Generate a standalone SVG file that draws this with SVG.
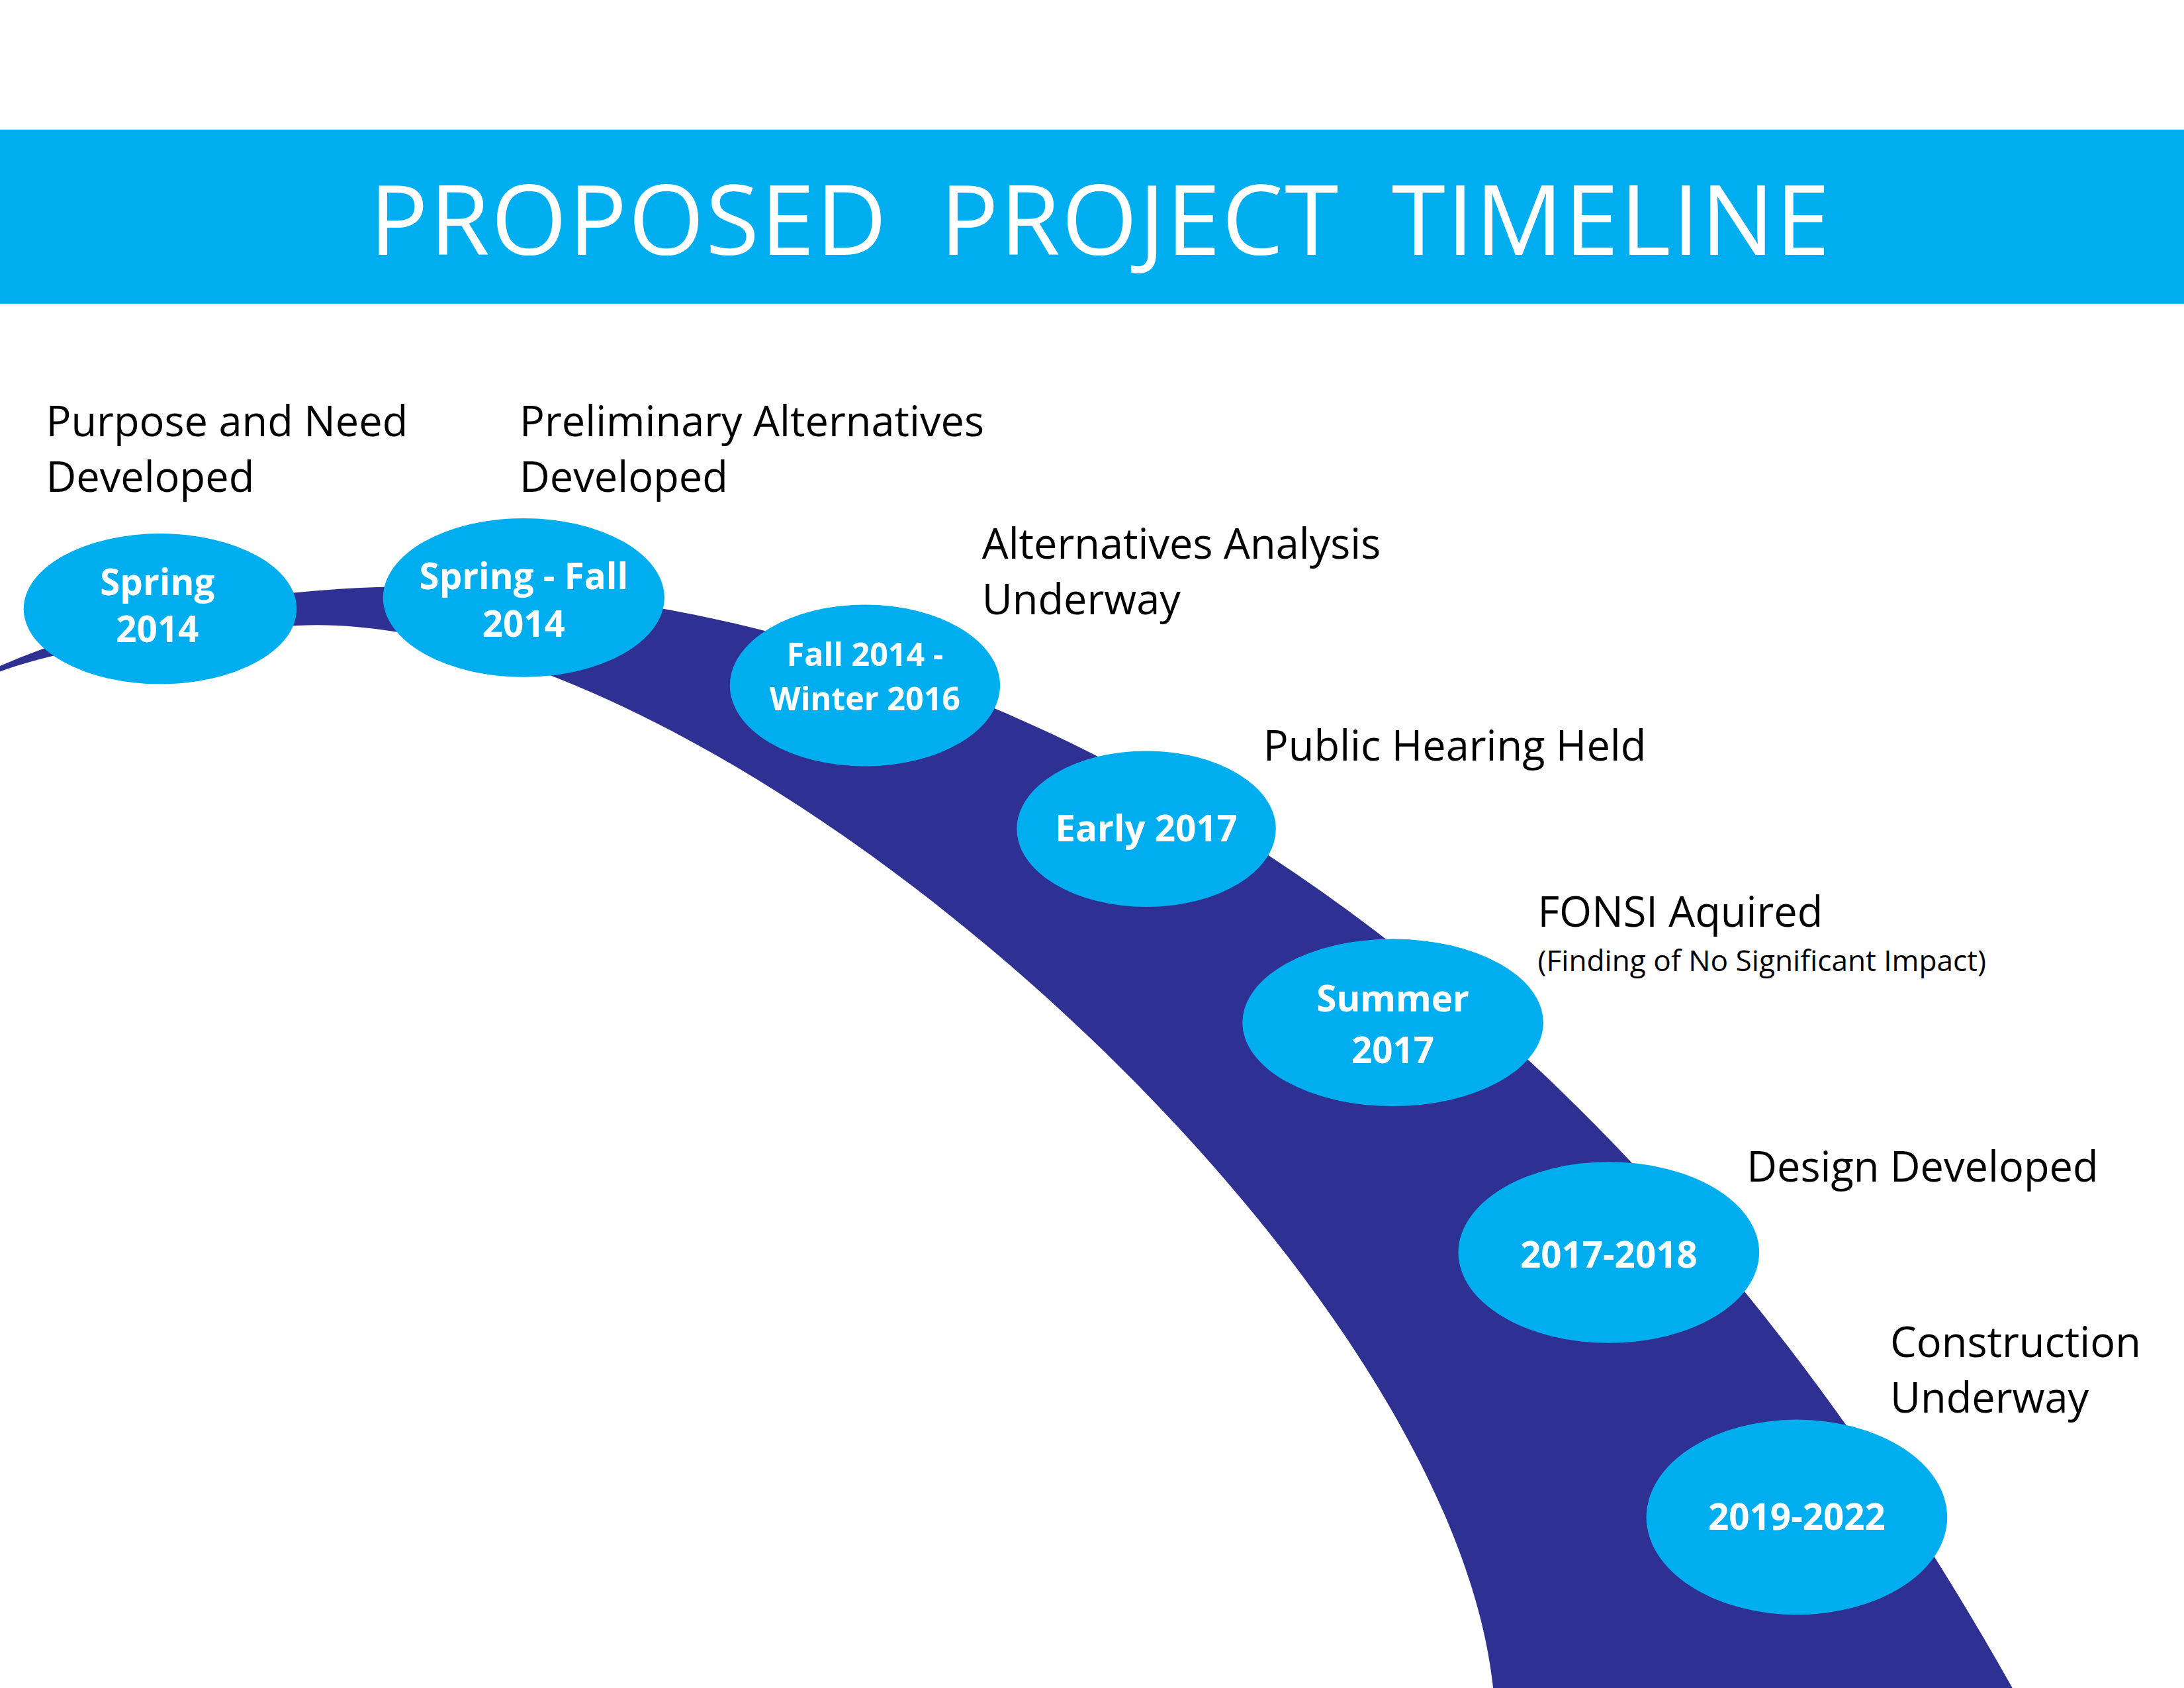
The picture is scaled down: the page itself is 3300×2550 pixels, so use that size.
<svg xmlns="http://www.w3.org/2000/svg" width="3300" height="2550" viewBox="0 0 3300 2550">
<style>
.e{fill:#00AEEF}
.d{font-family:"Open Sans","Liberation Sans",sans-serif;font-weight:bold;font-size:26px;fill:#fff;text-anchor:middle}
.t{font-family:"Open Sans","Liberation Sans",sans-serif;font-size:30px;fill:#000}
</style>
<rect width="3300" height="2550" fill="#fff"/>
<g transform="scale(2.1046)">
<g id="banner"><rect x="0" y="93" width="1568" height="125" fill="#00AEEF"/>
<text x="790" y="183" font-family="Open Sans,Liberation Sans,sans-serif" font-size="70" fill="#fff" text-anchor="middle" letter-spacing="1" word-spacing="18">PROPOSED  PROJECT  TIMELINE</text></g>
<g id="connectors"><path d="M0,478 C 330,335 1000,420 1445,1212 L 1072,1212 C 1040,900 500,420 200,450 C 100,455 40,468 0,482 Z" fill="#2E3192"/></g>
<g id="n1"><ellipse class="e" cx="115" cy="437" rx="98" ry="54"/><text class="d" x="113" y="427">Spring</text><text class="d" x="113" y="461">2014</text><text class="t" x="33" y="313">Purpose and Need</text><text class="t" x="33" y="353">Developed</text></g>
<g id="n2"><ellipse class="e" cx="376" cy="429" rx="101" ry="57"/><text class="d" x="376" y="423">Spring - Fall</text><text class="d" x="376" y="457">2014</text><text class="t" x="373" y="313">Preliminary Alternatives</text><text class="t" x="373" y="353">Developed</text></g>
<g id="n3"><ellipse class="e" cx="621" cy="492" rx="97" ry="58"/><text class="d" x="621" y="478" style="font-size:23px">Fall 2014 -</text><text class="d" x="621" y="510" style="font-size:23px">Winter 2016</text><text class="t" x="705" y="401">Alternatives Analysis</text><text class="t" x="705" y="441">Underway</text></g>
<g id="n4"><ellipse class="e" cx="823" cy="595" rx="93" ry="56"/><text class="d" x="823" y="604">Early 2017</text><text class="t" x="907" y="546">Public Hearing Held</text></g>
<g id="n5"><ellipse class="e" cx="1000" cy="734" rx="108" ry="60"/><text class="d" x="1000" y="726">Summer</text><text class="d" x="1000" y="763">2017</text><text class="t" x="1104" y="665">FONSI Aquired</text><text class="t" x="1104" y="697" style="font-size:21px">(Finding of No Significant Impact)</text></g>
<g id="n6"><ellipse class="e" cx="1155" cy="899" rx="108" ry="65"/><text class="d" x="1155" y="910">2017-2018</text><text class="t" x="1254" y="848">Design Developed</text></g>
<g id="n7"><ellipse class="e" cx="1290" cy="1089" rx="108" ry="70"/><text class="d" x="1290" y="1098">2019-2022</text><text class="t" x="1357" y="974">Construction</text><text class="t" x="1357" y="1014">Underway</text></g>
</g>
</svg>
